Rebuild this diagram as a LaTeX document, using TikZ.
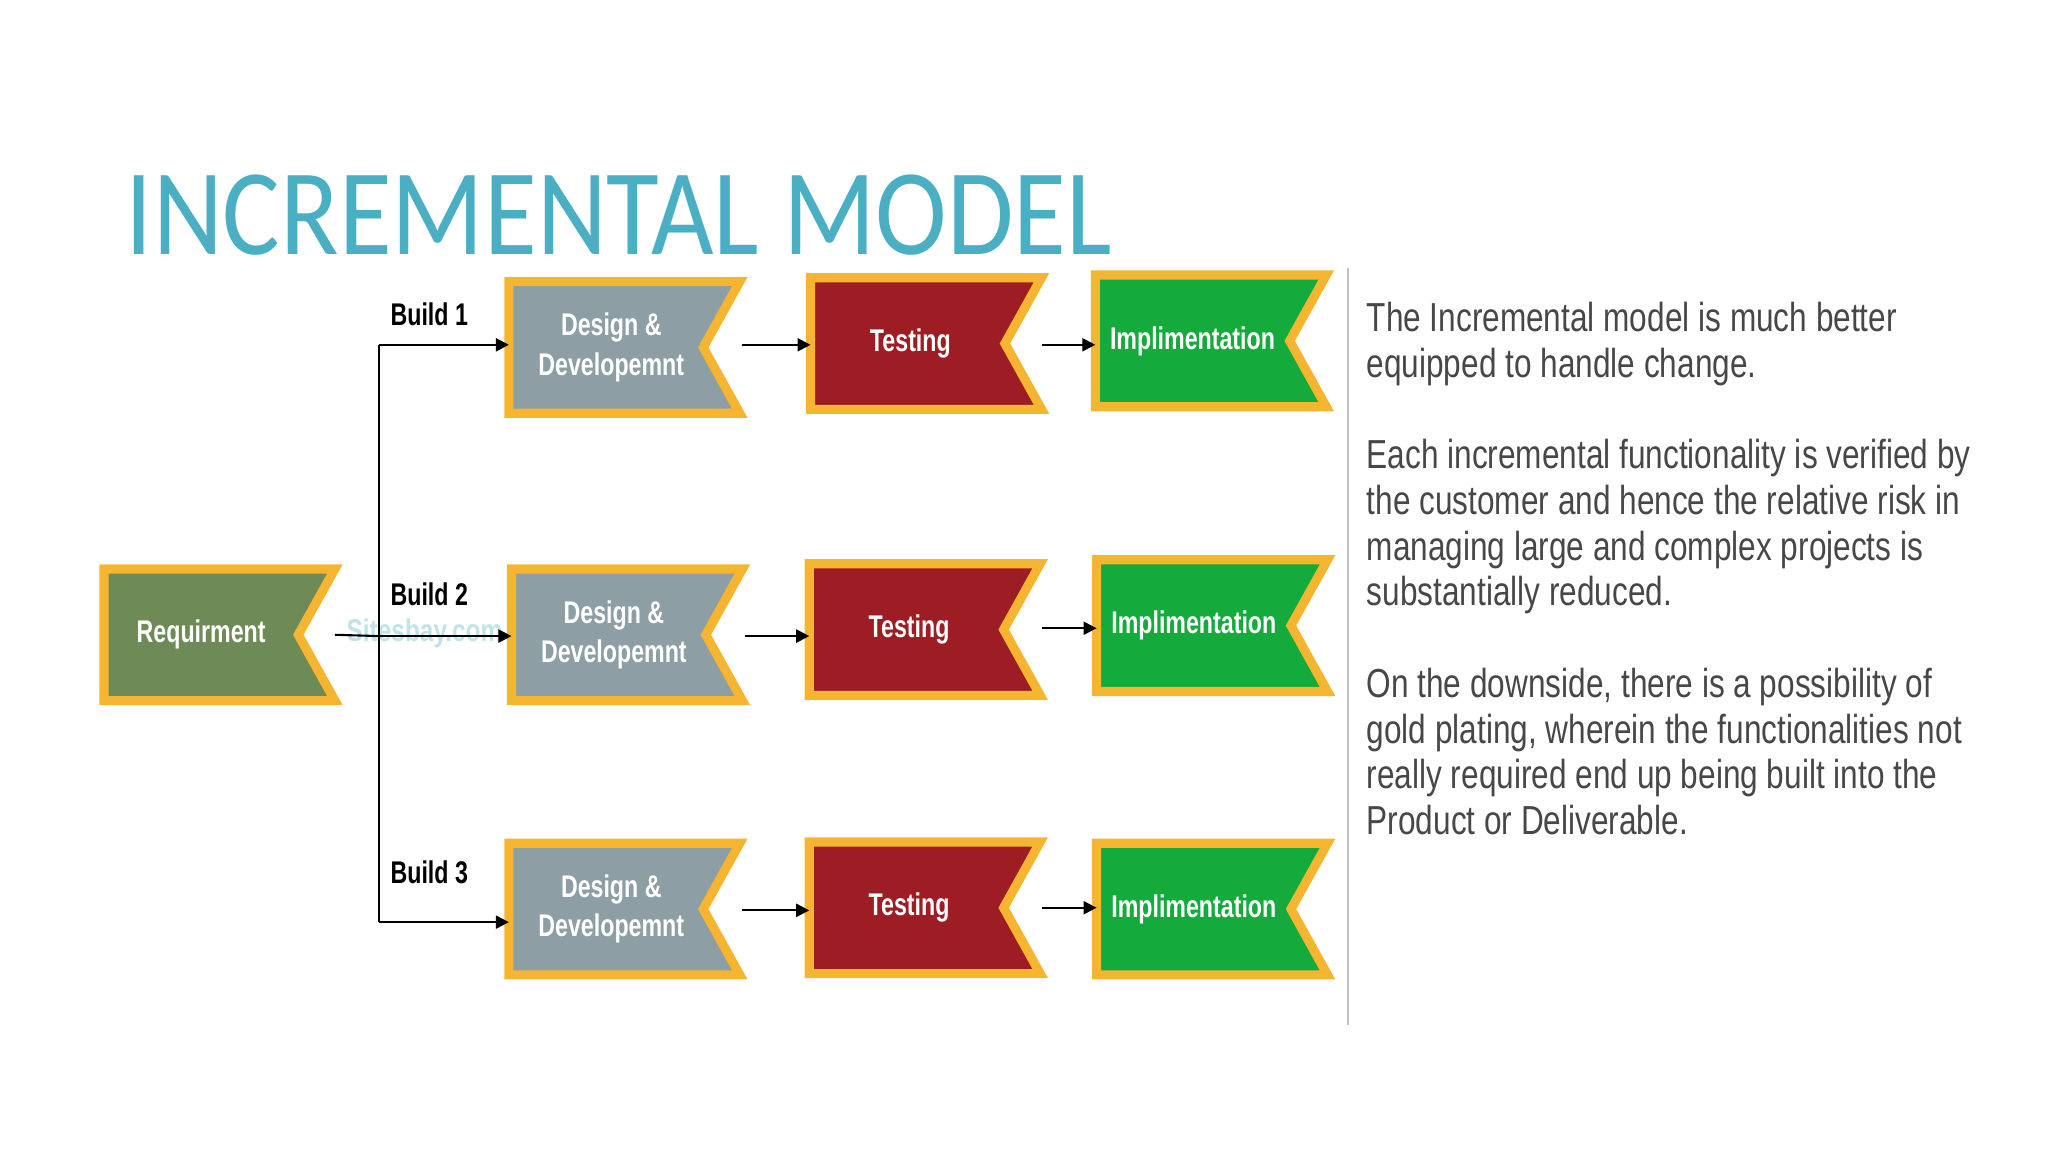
\documentclass[tikz,border=0pt]{standalone}
\usepackage{fontspec}
\setmainfont{Liberation Sans}
\newfontfamily\narrow{Liberation Sans}[FakeStretch=0.78]
\newfontfamily\boxf{Liberation Sans}[FakeStretch=0.74]
\newfontfamily\titlef{Carlito}[FakeStretch=0.88]
\usetikzlibrary{calc,arrows.meta}
\definecolor{teal}{HTML}{4BAFC4}
\definecolor{bord}{HTML}{F6B531}
\definecolor{dgray}{HTML}{8E9EA5}
\definecolor{tred}{HTML}{9E1C24}
\definecolor{igreen}{HTML}{14AA3C}
\definecolor{rgreen}{HTML}{6E8B57}
\newcommand{\flag}[2]{\fill[#2,draw=bord,line width=3.5] (#1.north west) -- (#1.north east) -- ($(#1.east)+(-28,0)$) -- (#1.south east) -- (#1.south west) -- cycle;}
\begin{document}
\begin{tikzpicture}[x=0.5pt,y=-0.5pt,
  box/.style={minimum width=88pt,minimum height=50pt,inner sep=0},
  lbl/.style={text=white,font=\boxf\bfseries\fontsize{12}{15}\selectfont,align=center},
  arr/.style={-{Triangle[length=5pt,width=5pt]},line width=0.8pt},
  bl/.style={font=\boxf\bfseries\fontsize{12}{14}\selectfont,anchor=west}]
\useasboundingbox (0,0) rectangle (1568,882);
\node[anchor=base west,text=teal,font=\titlef\fontsize{47}{50}\selectfont,inner sep=0] (title) at (96,195) {INCREMENTAL MODEL};
% boxes
\node[box] (req) at (168,486) {}; \flag{req}{rgreen}
\node[box] (d1) at (478,266) {}; \flag{d1}{dgray}
\node[box] (t1) at (709,263) {}; \flag{t1}{tred}
\node[box] (i1) at (927,261) {}; \flag{i1}{igreen}
\node[box] (d2) at (480,486) {}; \flag{d2}{dgray}
\node[box] (t2) at (708,482) {}; \flag{t2}{tred}
\node[box] (i2) at (928,479) {}; \flag{i2}{igreen}
\node[box] (d3) at (478,696) {}; \flag{d3}{dgray}
\node[box] (t3) at (708,695) {}; \flag{t3}{tred}
\node[box] (i3) at (928,696) {}; \flag{i3}{igreen}
\node[lbl] at ($(req)+(-14,0)$) {Requirment};
\foreach \n in {d1,d2,d3}{\node[lbl] at ($(\n)+(-10,0)$) {Design \&\\Developemnt};}
\foreach \n in {t1,t2,t3}{\node[lbl] at ($(\n)+(-12,0)$) {Testing};}
\foreach \n in {i1,i2,i3}{\node[lbl] at ($(\n)+(-14,0)$) {Implimentation};}
\node[text=teal!35,font=\narrow\bfseries\fontsize{12}{14}\selectfont] (wm) at (325,485) {Sitesbay.com};
% connectors
\coordinate (b1) at (290,264); \coordinate (b2) at (290,487); \coordinate (b3) at (290,706);
\draw[line width=0.8pt] (b1) -- (b3);
\draw[line width=0.8pt] (req.east) -- (b2);
\draw[arr] (b1) -- (d1.west |- b1);
\draw[arr] (b2) -- (d2.west |- b2);
\draw[arr] (b3) -- (d3.west |- b3);
\draw[arr] (568,264) -- (t1.west |- 0,264);
\draw[arr] (570,487) -- (t2.west |- 0,487);
\draw[arr] (568,697) -- (t3.west |- 0,697);
\draw[arr] (798,264) -- (i1.west |- 0,264);
\draw[arr] (798,481) -- (i2.west |- 0,481);
\draw[arr] (798,695) -- (i3.west |- 0,695);
\node[bl] (l1) at (292,241) {Build 1};
\node[bl] (l2) at (292,455) {Build 2};
\node[bl] (l3) at (292,668) {Build 3};
\draw[gray!50,line width=0.8pt] (1032,205) -- (1032,785);
\node[anchor=north west,inner sep=0,text=black!72,align=left,font=\narrow\fontsize{15.5}{17.5}\selectfont] (txt) at (1046,231) {The Incremental model is much better\\equipped to handle change.\\[17.5pt]Each incremental functionality is verified by\\the customer and hence the relative risk in\\managing large and complex projects is\\substantially reduced.\\[17.5pt]On the downside, there is a possibility of\\gold plating, wherein the functionalities not\\really required end up being built into the\\Product or Deliverable.};
\end{tikzpicture}
\end{document}
